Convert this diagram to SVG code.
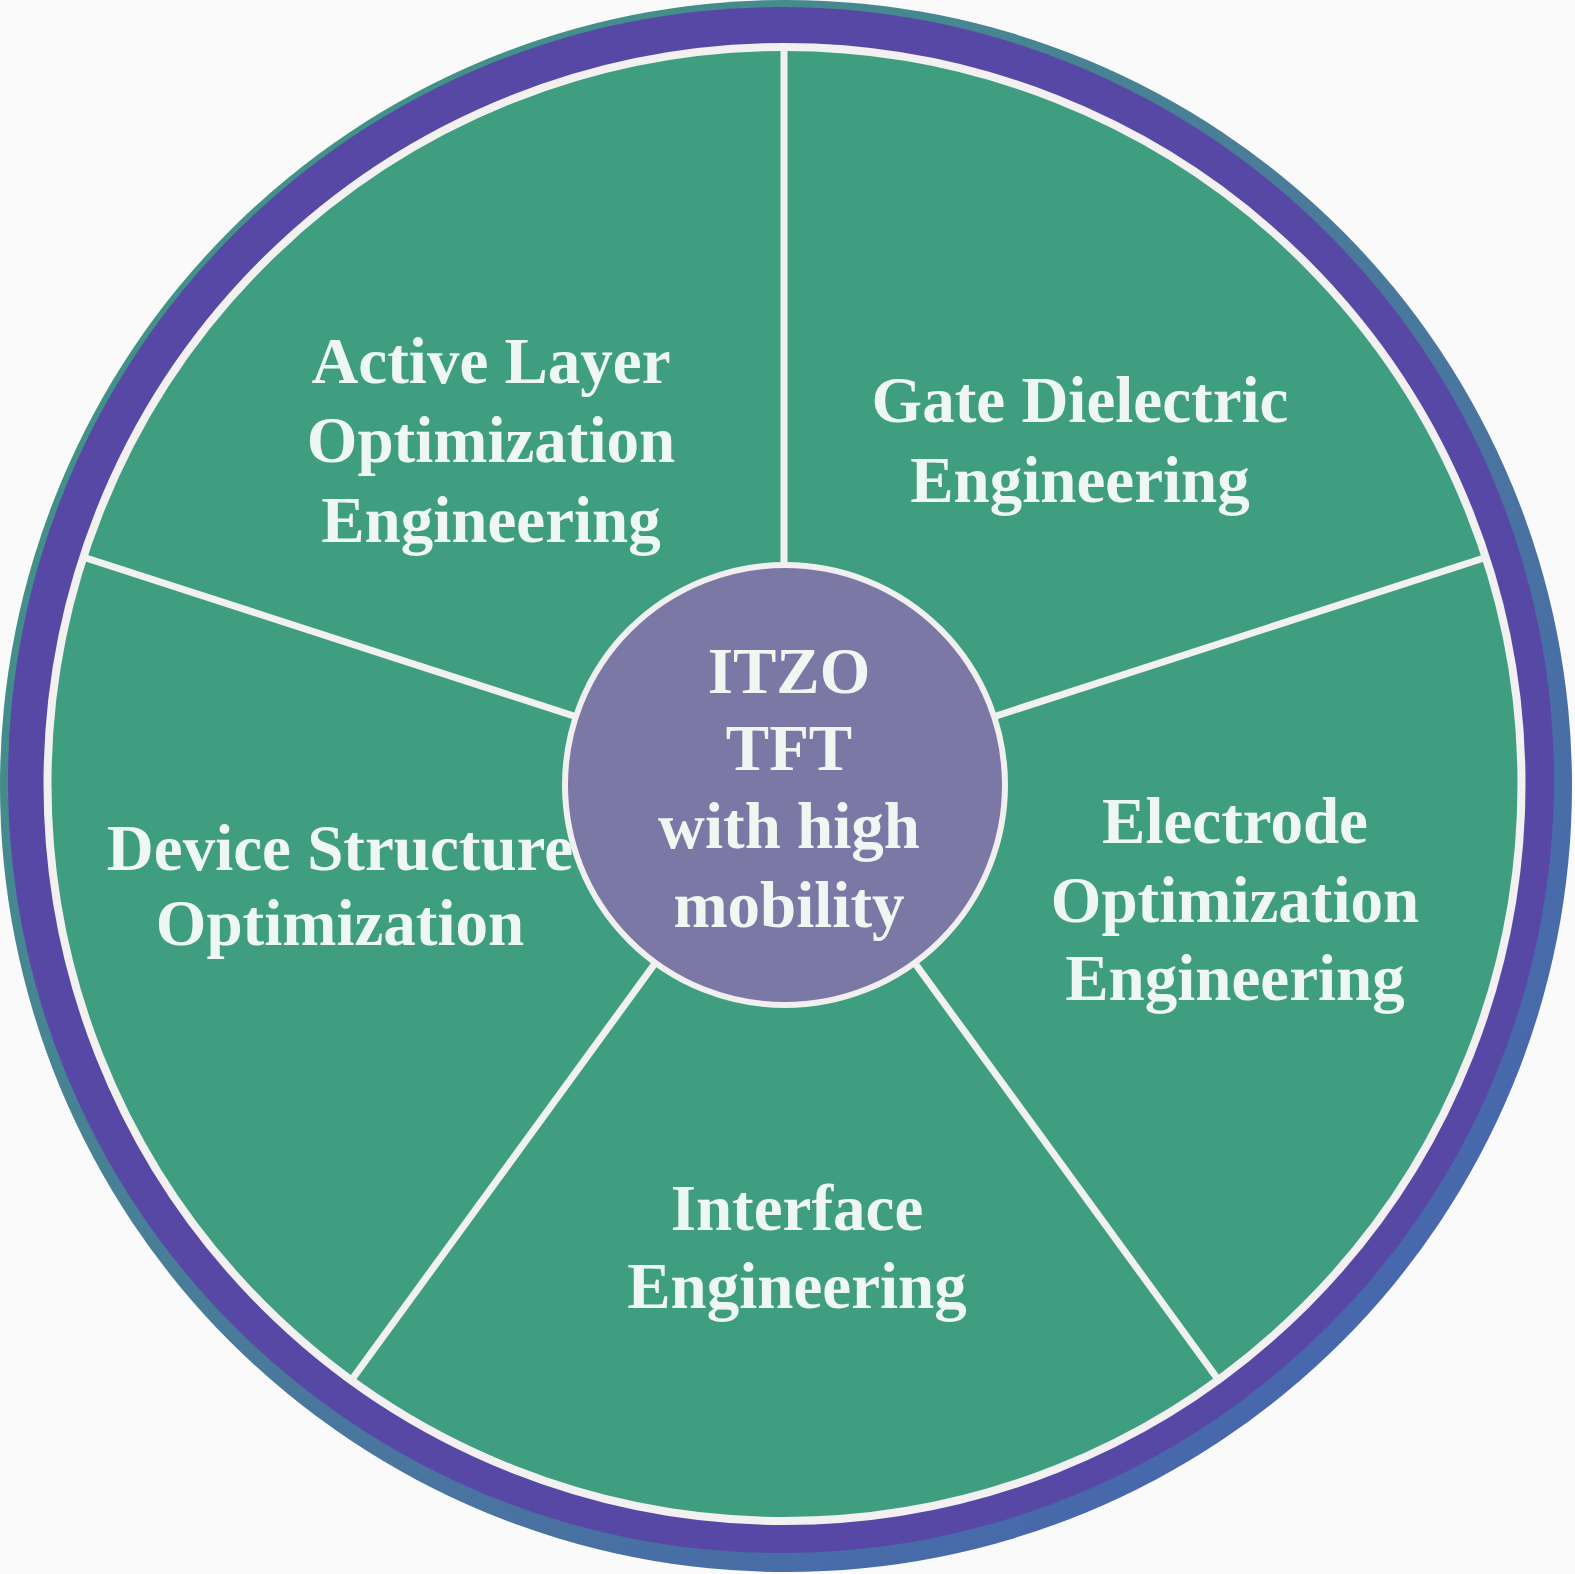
<svg xmlns="http://www.w3.org/2000/svg" width="1575" height="1574" viewBox="0 0 1575 1574">
<defs>
<linearGradient id="rim" x1="0" y1="0" x2="1" y2="1">
<stop offset="0" stop-color="#3f9c80"/>
<stop offset="0.5" stop-color="#4a7a9a"/>
<stop offset="1" stop-color="#4660b4"/>
</linearGradient>
<style>
.lbl{font-family:"Liberation Serif","Times New Roman",serif;font-weight:bold;font-size:65px;fill:#eff7f3;text-anchor:middle}
.div{stroke:#f1f1ef;stroke-width:7;fill:none}
</style>
</defs>
<rect x="0" y="0" width="1575" height="1574" fill="#fafafa"/>
<g id="ring">
<circle cx="786" cy="786" r="786" fill="url(#rim)"/>
<circle cx="781" cy="780" r="773" fill="#5848a6"/>
<circle cx="784.5" cy="784" r="737" fill="#409e80" stroke="#f2f0f0" stroke-width="8"/>
</g>
<g id="connectors">
<line class="div" x1="784" y1="50" x2="784" y2="566"/>
<line class="div" x1="86" y1="558" x2="577" y2="717"/>
<line class="div" x1="1484" y1="558" x2="993" y2="717"/>
<line class="div" x1="353" y1="1378" x2="656" y2="962"/>
<line class="div" x1="1217" y1="1378" x2="914" y2="962"/>
</g>
<g id="seg-active">
<text class="lbl" x="491" y="383">Active Layer</text>
<text class="lbl" x="491" y="462">Optimization</text>
<text class="lbl" x="491" y="542">Engineering</text>
</g>
<g id="seg-gate">
<text class="lbl" x="1080" y="422">Gate Dielectric</text>
<text class="lbl" x="1080" y="502">Engineering</text>
</g>
<g id="seg-device">
<text class="lbl" x="340" y="870">Device Structure</text>
<text class="lbl" x="340" y="945">Optimization</text>
</g>
<g id="seg-electrode">
<text class="lbl" x="1235" y="843">Electrode</text>
<text class="lbl" x="1235" y="922">Optimization</text>
<text class="lbl" x="1235" y="1000">Engineering</text>
</g>
<g id="seg-interface">
<text class="lbl" x="797" y="1230">Interface</text>
<text class="lbl" x="797" y="1308">Engineering</text>
</g>
<g id="center">
<circle cx="785" cy="785" r="220" fill="#7c78a6" stroke="#f1efef" stroke-width="6"/>
<text class="lbl" x="789" y="693">ITZO</text>
<text class="lbl" x="789" y="770">TFT</text>
<text class="lbl" x="789" y="848">with high</text>
<text class="lbl" x="789" y="927">mobility</text>
</g>
</svg>
